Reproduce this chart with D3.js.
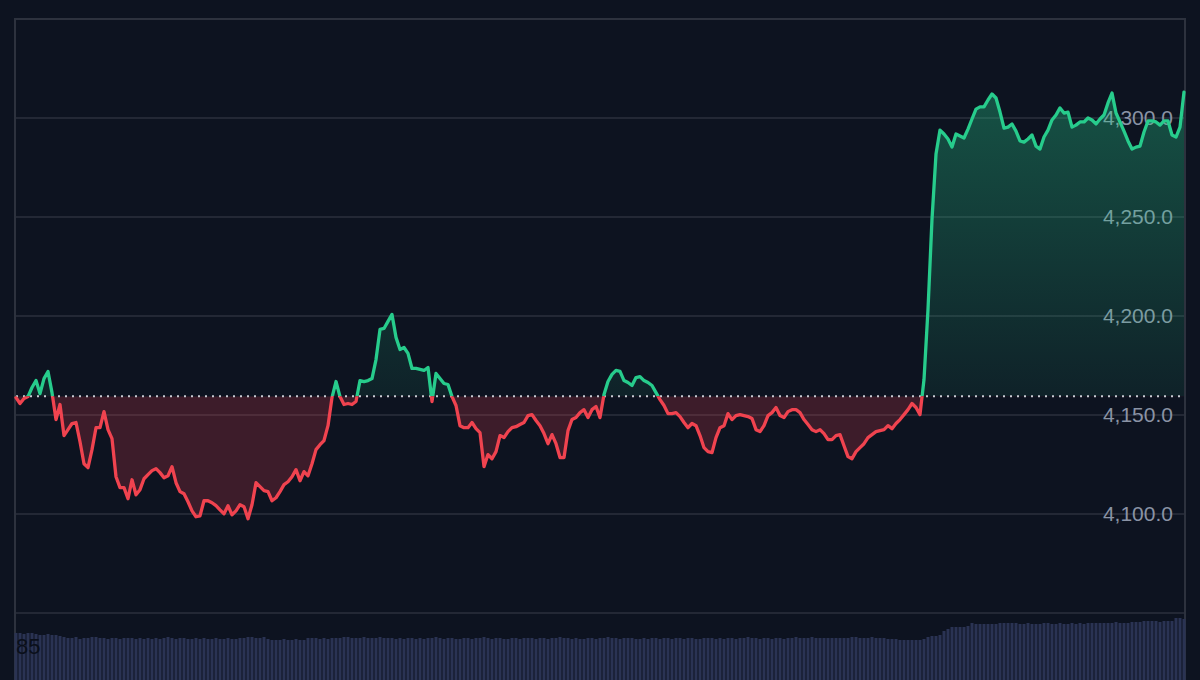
<!DOCTYPE html>
<html>
<head>
<meta charset="utf-8">
<script src="https://cdn.jsdelivr.net/npm/d3@7"></script>
<style>
  html, body { margin: 0; padding: 0; background: #0d1320; }
  svg { display: block; }
  text { font-family: "Liberation Sans", Arial, sans-serif; }
</style>
</head>
<body>
<svg id="chart" width="1200" height="680"></svg>
<script>
// ---- data ----
const prices = [
  4158.8,4155.8,4158.3,4159.3,4163.9,4167.4,4160.8,4168.4,4172.0,4161.3,
  4147.7,4155.3,4139.6,4142.6,4145.7,4146.2,4136.5,4125.4,4123.4,4132.5,
  4143.6,4143.6,4151.7,4142.6,4138.1,4118.8,4113.3,4113.3,4107.7,4117.3,
  4109.7,4112.3,4117.8,4119.9,4121.9,4122.9,4120.9,4118.3,4119.3,4123.9,
  4115.8,4111.3,4110.2,4106.2,4101.6,4098.6,4099.1,4106.7,4106.7,4105.7,
  4104.2,4102.1,4100.1,4104.2,4099.6,4101.6,4104.7,4103.7,4097.6,4104.7,
  4115.8,4113.8,4111.8,4111.3,4106.7,4108.2,4111.3,4114.8,4116.3,4118.8,
  4122.4,4116.8,4121.4,4119.3,4125.4,4132.5,4135.0,4137.1,4144.6,4158.8,
  4166.9,4159.3,4155.3,4155.8,4155.3,4156.8,4167.4,4166.9,4167.4,4168.4,
  4178.0,4193.2,4193.7,4197.3,4200.8,4189.2,4183.1,4184.1,4181.1,4173.5,
  4173.5,4173.0,4172.5,4174.0,4156.8,4171.0,4168.4,4165.9,4165.4,4159.3,
  4154.8,4144.6,4143.6,4143.6,4146.2,4143.1,4141.1,4123.9,4130.0,4127.9,
  4131.5,4139.6,4138.6,4141.6,4143.6,4144.1,4145.2,4146.2,4149.7,4150.2,
  4147.2,4144.6,4140.6,4135.5,4140.1,4135.5,4128.5,4128.5,4142.1,4147.7,
  4148.7,4151.2,4152.7,4148.7,4152.7,4154.3,4148.7,4160.3,4166.9,4170.5,
  4172.5,4172.0,4167.4,4166.4,4164.9,4168.9,4169.4,4167.4,4166.4,4164.9,
  4161.3,4157.8,4154.8,4150.7,4150.7,4151.2,4149.2,4146.2,4143.6,4145.7,
  4144.6,4139.6,4133.5,4131.5,4131.0,4138.6,4143.6,4144.6,4150.7,4147.7,
  4149.7,4150.2,4149.7,4149.2,4148.2,4142.6,4141.6,4144.6,4149.7,4151.2,
  4153.8,4149.7,4148.7,4151.7,4152.7,4152.7,4151.2,4147.7,4145.2,4142.6,
  4141.6,4142.6,4140.6,4137.6,4137.6,4139.6,4140.1,4134.5,4129.0,4127.9,
  4131.5,4133.5,4135.5,4138.6,4140.1,4141.6,4142.1,4142.6,4144.6,4143.1,
  4145.7,4147.7,4150.2,4152.7,4155.8,4153.8,4150.2,4167.9,4203.3,4248.9,
  4281.8,4293.9,4291.9,4289.4,4285.3,4291.9,4290.9,4289.9,4294.4,4299.5,
  4304.5,4305.6,4305.6,4309.1,4312.1,4310.1,4303.0,4294.9,4295.4,4297.0,
  4293.4,4288.4,4287.8,4289.4,4291.4,4285.8,4284.3,4290.4,4293.9,4299.0,
  4301.5,4305.1,4302.5,4303.0,4295.4,4296.4,4298.0,4298.0,4300.0,4299.0,
  4297.0,4299.5,4301.5,4307.6,4312.6,4302.5,4298.0,4293.4,4288.4,4284.3,
  4285.3,4285.8,4292.9,4298.5,4298.5,4298.0,4296.4,4298.5,4298.5,4291.4,
  4290.4,4295.4,4313.1
];
const volumes = [
  67,67,66,67,67,66,65,65,66,65,
  65,64,63,62,62,63,61,62,62,63,
  63,62,62,61,62,62,61,62,62,62,
  61,62,61,62,61,62,61,62,63,62,
  61,62,62,61,61,62,61,62,61,61,
  62,61,61,62,61,61,62,62,63,63,
  62,62,63,61,60,60,60,61,60,60,
  61,60,60,62,62,62,61,62,61,62,
  62,62,63,63,62,62,62,63,62,62,
  62,63,62,62,62,61,62,61,62,62,
  61,62,61,62,62,63,62,61,62,62,
  61,61,62,62,61,62,62,63,62,61,
  62,62,61,61,62,62,61,62,62,62,
  61,62,62,61,62,62,63,62,62,61,
  62,61,61,62,62,61,62,62,63,62,
  62,61,62,62,62,61,61,62,61,62,
  62,61,62,62,61,62,62,61,62,62,
  61,61,62,62,62,61,62,61,62,62,
  61,62,62,63,62,62,61,62,62,61,
  62,62,61,62,62,63,62,62,62,63,
  62,62,62,62,62,62,62,62,62,63,
  63,62,62,62,63,62,62,62,61,61,
  61,60,60,60,60,60,60,61,63,64,
  64,65,69,71,73,73,73,73,74,77,
  76,76,76,76,76,76,77,77,77,77,
  77,76,76,77,76,76,76,77,77,76,
  76,77,76,76,77,76,77,76,77,77,
  77,77,77,77,77,78,77,77,77,78,
  78,78,79,79,79,79,78,79,79,79,
  82,82,81
];
const baselinePrice = 4159.5;
const gridValues = [4050, 4100, 4150, 4200, 4250, 4300, 4350];
const labelValues = [4100, 4150, 4200, 4250, 4300];
const volumeLabel = "85";

// ---- drawing ----
const W = 1200, H = 680;
const svg = d3.select("#chart");
const green = "#27cc8c", red = "#f0434f";

const x = d3.scaleLinear().domain([0, prices.length - 1]).range([16, 1184]);
const y = d3.scaleLinear().domain([4050, 4350]).range([613, 19]);
const vy = d3.scaleLinear().domain([0, 100]).range([700, 600]);
const by = y(baselinePrice);

const defs = svg.append("defs");
const grad = defs.append("linearGradient").attr("id", "gfill")
  .attr("gradientUnits", "userSpaceOnUse").attr("x1", 0).attr("x2", 0)
  .attr("y1", y(d3.max(prices))).attr("y2", by);
grad.append("stop").attr("offset", 0).attr("stop-color", green).attr("stop-opacity", 0.34);
grad.append("stop").attr("offset", 1).attr("stop-color", green).attr("stop-opacity", 0.08);
defs.append("clipPath").attr("id", "above").append("rect")
  .attr("x", 0).attr("y", 0).attr("width", W).attr("height", by);
defs.append("clipPath").attr("id", "below").append("rect")
  .attr("x", 0).attr("y", by).attr("width", W).attr("height", H - by);

// gridlines
svg.append("g").selectAll("line").data(gridValues).join("line")
  .attr("x1", 15).attr("x2", 1185)
  .attr("y1", d => y(d)).attr("y2", d => y(d))
  .attr("stroke", "#2b303c").attr("stroke-width", 1.6);

// frame
svg.append("path")
  .attr("d", `M15,${H} L15,${y(4350)} L1185,${y(4350)} L1185,${H}`)
  .attr("fill", "none").attr("stroke", "#2d323e").attr("stroke-width", 2);

// price labels (drawn beneath the area, as in the reference)
const fmt = d3.format(",.1f");
svg.append("g").selectAll("text").data(labelValues).join("text")
  .attr("x", 1173).attr("y", d => y(d)).attr("dy", "0.35em")
  .attr("text-anchor", "end").attr("font-size", 21)
  .attr("fill", "#8a93a5").text(d => fmt(d));

// volume bars
svg.append("g").selectAll("rect").data(volumes).join("rect")
  .attr("x", (d, i) => x(i) - 1.5).attr("width", 3)
  .attr("y", d => vy(d)).attr("height", d => H - vy(d))
  .attr("fill", "#2a3353");

svg.append("text").attr("x", 16).attr("y", 654)
  .attr("font-size", 22).attr("fill", "#0a0f1a").text(volumeLabel);

// areas
const area = d3.area().x((d, i) => x(i)).y0(by).y1(d => y(d));
svg.append("path").datum(prices).attr("d", area)
  .attr("fill", "url(#gfill)").attr("clip-path", "url(#above)");
svg.append("path").datum(prices).attr("d", area)
  .attr("fill", red).attr("fill-opacity", 0.21).attr("clip-path", "url(#below)");

// baseline (dotted)
svg.append("line").attr("x1", 16).attr("x2", 1185).attr("y1", by).attr("y2", by)
  .attr("stroke", "#c9ccd3").attr("stroke-width", 2).attr("stroke-dasharray", "2,5");

// lines
const line = d3.line().x((d, i) => x(i)).y(d => y(d));
svg.append("path").datum(prices).attr("d", line)
  .attr("fill", "none").attr("stroke", green).attr("stroke-width", 3.3)
  .attr("stroke-linejoin", "round").attr("stroke-linecap", "round")
  .attr("clip-path", "url(#above)");
svg.append("path").datum(prices).attr("d", line)
  .attr("fill", "none").attr("stroke", red).attr("stroke-width", 3.3)
  .attr("stroke-linejoin", "round").attr("stroke-linecap", "round")
  .attr("clip-path", "url(#below)");
</script>
</body>
</html>
